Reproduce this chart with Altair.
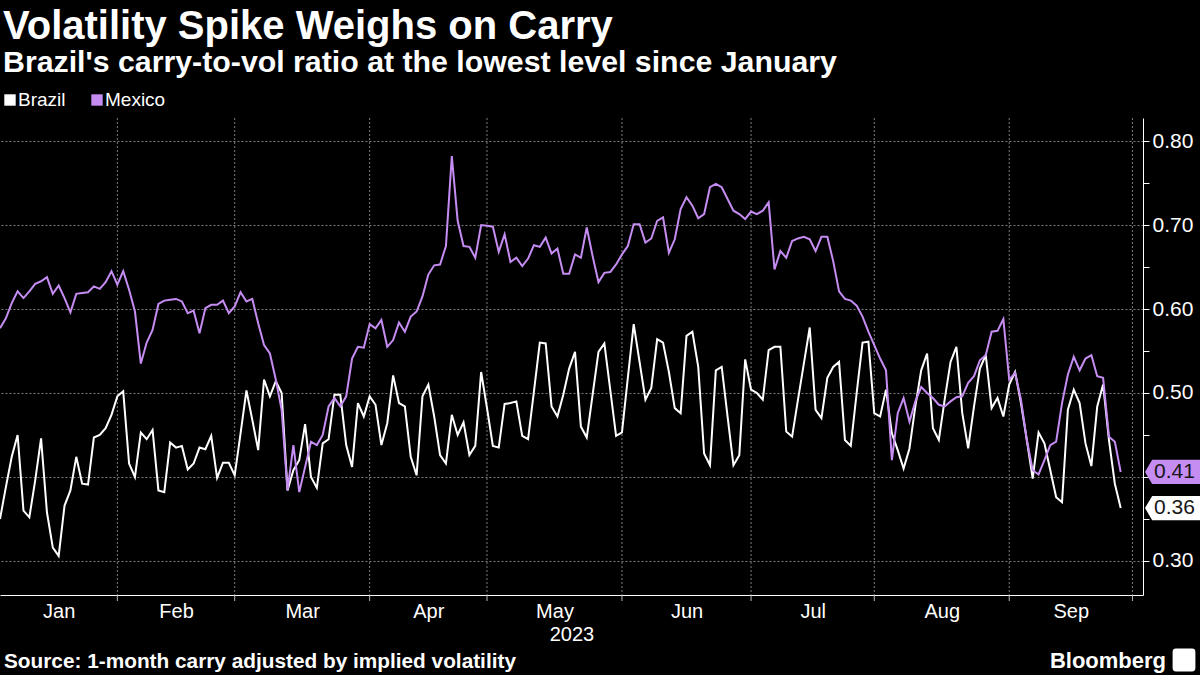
import altair as alt
import numpy as np
import pandas as pd

TITLE = "Volatility Spike Weighs on Carry"
SUBTITLE = "Brazil's carry-to-vol ratio at the lowest level since January"
SOURCE = "Source: 1-month carry adjusted by implied volatility"
BRAND = "Bloomberg"
YEAR_LABEL = "2023"
FONT = "Liberation Sans"

series_names = ["Brazil", "Mexico"]
series_colors = ["#FFFFFF", "#C58CF2"]

first_date = "2023-01-04"
axis_origin = "2023-01-02"
month_starts = ["2023-02-01", "2023-03-01", "2023-04-01", "2023-05-01", "2023-06-01",
                "2023-07-01", "2023-08-01", "2023-09-01", "2023-10-01"]
month_labels = ["Jan", "Feb", "Mar", "Apr", "May", "Jun", "Jul", "Aug", "Sep"]
y_ticks = [0.30, 0.35, 0.40, 0.45, 0.50, 0.55, 0.60, 0.65, 0.70, 0.75, 0.80]

brazil = [
    0.350, 0.388, 0.424, 0.450, 0.360, 0.352, 0.396, 0.446, 0.358, 0.316,
    0.306, 0.366, 0.384, 0.424, 0.392, 0.391, 0.447, 0.450, 0.458, 0.474,
    0.496, 0.502, 0.416, 0.400, 0.453, 0.445, 0.456, 0.384, 0.382, 0.441,
    0.435, 0.437, 0.409, 0.416, 0.435, 0.433, 0.449, 0.399, 0.417, 0.417,
    0.402, 0.452, 0.503, 0.468, 0.432, 0.516, 0.496, 0.514, 0.500, 0.384,
    0.408, 0.420, 0.463, 0.400, 0.387, 0.440, 0.445, 0.498, 0.498, 0.438,
    0.412, 0.488, 0.472, 0.496, 0.486, 0.438, 0.464, 0.521, 0.488, 0.484,
    0.424, 0.402, 0.496, 0.510, 0.472, 0.426, 0.416, 0.474,
    0.450, 0.465, 0.426, 0.437, 0.525, 0.482, 0.437, 0.435, 0.487, 0.488,
    0.490, 0.449, 0.445, 0.502, 0.560, 0.559, 0.484, 0.472, 0.498, 0.529,
    0.549, 0.460, 0.447, 0.498, 0.549, 0.559, 0.504, 0.449, 0.453, 0.518,
    0.582, 0.537, 0.492, 0.506, 0.564, 0.560, 0.525, 0.482,
    0.476, 0.568, 0.573, 0.531, 0.428, 0.414, 0.527, 0.531, 0.472, 0.414,
    0.426, 0.540, 0.504, 0.500, 0.492, 0.551, 0.555, 0.555, 0.454, 0.448,
    0.492, 0.535, 0.578, 0.480, 0.470, 0.518, 0.531, 0.537, 0.444, 0.437,
    0.500, 0.560, 0.561, 0.476, 0.472, 0.504, 0.452, 0.432,
    0.410, 0.434, 0.484, 0.527, 0.547, 0.458, 0.444, 0.492, 0.537, 0.555,
    0.476, 0.434, 0.484, 0.529, 0.545, 0.482, 0.494, 0.472, 0.510, 0.525,
    0.488, 0.444, 0.398, 0.453, 0.440, 0.408, 0.376, 0.370, 0.480, 0.504,
    0.488, 0.440, 0.413, 0.484, 0.510, 0.444, 0.392, 0.363,
]

mexico = [
    0.577, 0.589, 0.607, 0.621, 0.613, 0.621, 0.630, 0.633, 0.638, 0.618,
    0.628, 0.613, 0.596, 0.618, 0.619, 0.620, 0.627, 0.624, 0.632, 0.645,
    0.629, 0.645, 0.623, 0.597, 0.535, 0.560, 0.575, 0.606, 0.610, 0.611,
    0.612, 0.609, 0.595, 0.598, 0.571, 0.601, 0.605, 0.605, 0.610, 0.595,
    0.603, 0.620, 0.609, 0.612, 0.583, 0.557, 0.547, 0.516, 0.480, 0.384,
    0.438, 0.382, 0.412, 0.442, 0.438, 0.450, 0.484, 0.494, 0.484, 0.496,
    0.541, 0.555, 0.554, 0.582, 0.577, 0.587, 0.555, 0.563, 0.584, 0.573,
    0.591, 0.597, 0.615, 0.641, 0.652, 0.653, 0.675, 0.782,
    0.705, 0.675, 0.674, 0.661, 0.700, 0.699, 0.698, 0.668, 0.689, 0.656,
    0.661, 0.651, 0.660, 0.676, 0.674, 0.685, 0.666, 0.672, 0.642, 0.642,
    0.665, 0.661, 0.697, 0.663, 0.632, 0.643, 0.644, 0.653, 0.665, 0.675,
    0.701, 0.701, 0.679, 0.684, 0.705, 0.709, 0.667, 0.683,
    0.719, 0.733, 0.723, 0.708, 0.713, 0.745, 0.749, 0.745, 0.731, 0.717,
    0.713, 0.707, 0.716, 0.713, 0.717, 0.727, 0.647, 0.669, 0.661, 0.681,
    0.684, 0.686, 0.683, 0.669, 0.686, 0.686, 0.657, 0.621, 0.612, 0.610,
    0.604, 0.591, 0.573, 0.557, 0.541, 0.527, 0.420, 0.476, 0.494,
    0.466, 0.490, 0.507, 0.500, 0.494, 0.486, 0.484, 0.490, 0.495, 0.496,
    0.512, 0.520, 0.539, 0.545, 0.573, 0.574, 0.588, 0.516, 0.524, 0.492,
    0.444, 0.408, 0.403, 0.420, 0.438, 0.442, 0.488, 0.522, 0.543, 0.527,
    0.541, 0.545, 0.520, 0.518, 0.448, 0.442, 0.406,
]

# ---- business-day positions (weekends removed, as on the original axis)
n = len(brazil)
dates = pd.bdate_range(first_date, periods=n)
origin = np.datetime64(axis_origin)
idx = np.busday_count(origin, dates.values.astype("datetime64[D]"))
bound_idx = [int(np.busday_count(origin, np.busday_offset(np.datetime64(m), 0, roll="forward")))
             for m in month_starts]

x_min = float(idx[0])
x_max = bound_idx[-1] + 1.8
edges = [x_min] + bound_idx
mids = [(edges[k] + edges[k + 1]) / 2 for k in range(len(month_labels))]
label_expr = ""
for k, lab in enumerate(month_labels):
    label_expr += f"datum.value < {edges[k + 1]} ? '{lab}' : "
label_expr += "''"

df = pd.DataFrame({
    "idx": np.concatenate([idx, idx]),
    "date": list(dates.strftime("%Y-%m-%d")) * 2,
    "value": brazil + mexico,
    "series": [series_names[0]] * n + [series_names[1]] * n,
})
last = pd.DataFrame({
    "idx": [idx[-1], idx[-1]],
    "value": [brazil[-1], mexico[-1]],
    "series": series_names,
})
last["label"] = last["value"].map(lambda v: f"{v:.2f}")
bounds_df = pd.DataFrame({"idx": bound_idx})

# y labels hidden where an end-value tag covers them
hidden = [t for t in y_ticks if min(abs(t - v) for v in last["value"]) < 0.025]
major = "abs(datum.value*10 - round(datum.value*10)) < 0.001"
hide_test = " || ".join([f"abs(datum.value - {h}) < 0.001" for h in hidden]) or "false"

W, H = 1143, 477
x_scale = alt.Scale(domain=[x_min, x_max], nice=False, zero=False)
y_scale = alt.Scale(domain=[0.2595, 0.8274], nice=False, zero=False)
color_scale = alt.Scale(domain=series_names, range=series_colors)

x_axis = alt.Axis(values=mids, labelExpr=label_expr, ticks=False, grid=False,
                  domainColor="#FFFFFF", domainWidth=1, labelColor="#FFFFFF",
                  labelFont=FONT, labelFontSize=20, labelPadding=6,
                  title=YEAR_LABEL, titleColor="#FFFFFF", titleFont=FONT,
                  titleFontSize=20, titleFontWeight="normal", titlePadding=3)
y_axis = alt.Axis(orient="right", values=y_ticks, title=None,
                  labelExpr=f"({major}) && !({hide_test}) ? format(datum.value, '.2f') : ''",
                  labelColor="#FFFFFF", labelFont=FONT, labelFontSize=21, labelPadding=3,
                  tickColor="#FFFFFF", tickSize=6, domainColor="#FFFFFF",
                  grid=True, gridColor="#8a8a8a", gridDash=[2, 2], gridWidth=1,
                  gridOpacity={"condition": {"test": major, "value": 0.9}, "value": 0})

X = alt.X("idx:Q", scale=x_scale, axis=x_axis)
Y = alt.Y("value:Q", scale=y_scale, axis=y_axis)

vgrid = alt.Chart(bounds_df).mark_rule(color="#8a8a8a", strokeDash=[2, 2], strokeWidth=1, opacity=0.9).encode(x=X)
vticks = alt.Chart(bounds_df).mark_rule(color="#bbbbbb", strokeWidth=1).encode(
    x=X, y=alt.value(H), y2=alt.value(H + 6))

lines = alt.Chart(df).mark_line(strokeWidth=2, clip=True).encode(
    x=X, y=Y,
    color=alt.Color("series:N", scale=color_scale, legend=None),
    order=alt.Order("idx:Q"),
)

tag_path = "M -1 0 L -0.74 -0.44 L 1 -0.44 L 1 0.44 L -0.74 0.44 Z"
tags = alt.Chart(last).mark_point(shape=tag_path, size=3025, filled=True, opacity=1).encode(
    x=alt.value(1172.5), y=Y,
    color=alt.Color("series:N", scale=color_scale, legend=None),
)
tag_text = alt.Chart(last).mark_text(align="left", baseline="middle", font=FONT, fontSize=21,
                                     color="#161616").encode(
    x=alt.value(1154), y=Y, text="label:N")

# key (legend) above the plot: one square and one label per series
legend_layers = []
legend_square_x = [10, 97]
for k, name in enumerate(series_names):
    key_df = pd.DataFrame({"series": [name]})
    legend_layers.append(alt.Chart(key_df).mark_point(shape="square", size=130, filled=True, opacity=1).encode(
        x=alt.value(legend_square_x[k]), y=alt.value(-18),
        color=alt.Color("series:N", scale=color_scale, legend=None)))
    legend_layers.append(alt.Chart(key_df).mark_text(align="left", baseline="middle", font=FONT,
                                                     fontSize=19, color="#FFFFFF").encode(
        x=alt.value(legend_square_x[k] + 8), y=alt.value(-18), text="series:N"))

source = alt.Chart(pd.DataFrame({"t": [SOURCE]})).mark_text(
    align="left", baseline="middle", font=FONT, fontSize=20.8, fontWeight="bold", color="#FFFFFF"
).encode(x=alt.value(4), y=alt.value(544), text="t:N")
brand = alt.Chart(pd.DataFrame({"t": [BRAND]})).mark_text(
    align="right", baseline="middle", font=FONT, fontSize=22, fontWeight="bold", color="#FFFFFF"
).encode(x=alt.value(1166), y=alt.value(543), text="t:N")
logo_path = "M -0.7 -1 L 0.7 -1 Q 1 -1 1 -0.7 L 1 0.7 Q 1 1 0.7 1 L -0.7 1 Q -1 1 -1 0.7 L -1 -0.7 Q -1 -1 -0.7 -1 Z"
logo = alt.Chart(pd.DataFrame({"t": [BRAND]})).mark_point(
    shape=logo_path, size=520, filled=True, color="#FFFFFF", opacity=1
).encode(x=alt.value(1184), y=alt.value(542))

chart = alt.layer(vgrid, vticks, lines, tags, tag_text, *legend_layers, source, brand, logo).properties(
    width=W, height=H,
    title=alt.TitleParams(text=TITLE, subtitle=SUBTITLE, anchor="start", frame="group",
                          orient="top", offset=13, dx=3, font=FONT, fontSize=40,
                          fontWeight="bold", color="#FFFFFF", subtitleFont=FONT,
                          subtitleFontSize=30.3, subtitleFontWeight="bold",
                          subtitleColor="#FFFFFF", subtitlePadding=1),
    autosize=alt.AutoSizeParams(type="none"),
    padding={"left": 0, "top": 118, "right": 57, "bottom": 80},
).configure(background="#000000").configure_view(stroke=None)

chart.save("out.html", embed_options={"renderer": "svg", "actions": False})
